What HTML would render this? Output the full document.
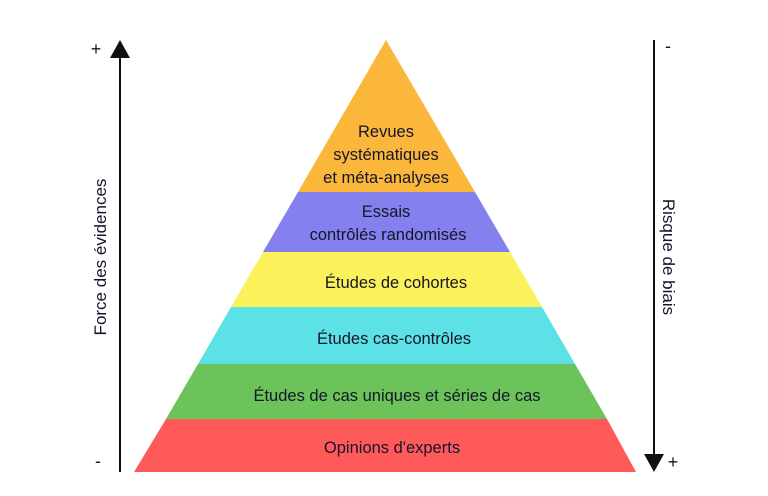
<!DOCTYPE html>
<html><head><meta charset="utf-8"><style>
html,body{margin:0;padding:0;background:#fff;}
svg text{font-family:"Liberation Sans",sans-serif;fill:#15152a;font-size:16.5px;}
</style></head><body>
<svg width="768" height="491" viewBox="0 0 768 491" xmlns="http://www.w3.org/2000/svg">
<polygon points="386,40 475,192 298,192" fill="#fbb73c"/>
<polygon points="298,192 475,192 510,252 263,252" fill="#8481ee"/>
<polygon points="263,252 510,252 542,307 231,307" fill="#fbf15a"/>
<polygon points="231,307 542,307 575,364 198,364" fill="#5ce1e6"/>
<polygon points="198,364 575,364 607,419 166,419" fill="#6cc35a"/>
<polygon points="166,419 607,419 636,472 134,472" fill="#ff5a5a"/>
<g text-anchor="middle">
<text x="386" y="137">Revues</text>
<text x="386" y="160">systématiques</text>
<text x="386" y="183">et méta-analyses</text>
<text x="386" y="217">Essais</text>
<text x="388" y="240">contrôlés randomisés</text>
<text x="396" y="288">Études de cohortes</text>
<text x="394" y="344">Études cas-contrôles</text>
<text x="397" y="401">Études de cas uniques et séries de cas</text>
<text x="392" y="453">Opinions d'experts</text>
</g>
<line x1="120" y1="55" x2="120" y2="472" stroke="#111" stroke-width="2"/>
<polygon points="120,40 130,58 110,58" fill="#111"/>
<line x1="654" y1="40" x2="654" y2="456" stroke="#111" stroke-width="2"/>
<polygon points="654,472 664,454 644,454" fill="#111"/>
<text x="96" y="55" text-anchor="middle" style="font-size:18px">+</text>
<text x="98" y="467" text-anchor="middle" style="font-size:18px">-</text>
<text x="668" y="52" text-anchor="middle" style="font-size:18px">-</text>
<text x="673" y="468" text-anchor="middle" style="font-size:18px">+</text>
<text transform="translate(106,257) rotate(-90)" text-anchor="middle" style="font-size:17px">Force des évidences</text>
<text transform="translate(663,257) rotate(90)" text-anchor="middle" style="font-size:17px">Risque de biais</text>
</svg>
</body></html>
